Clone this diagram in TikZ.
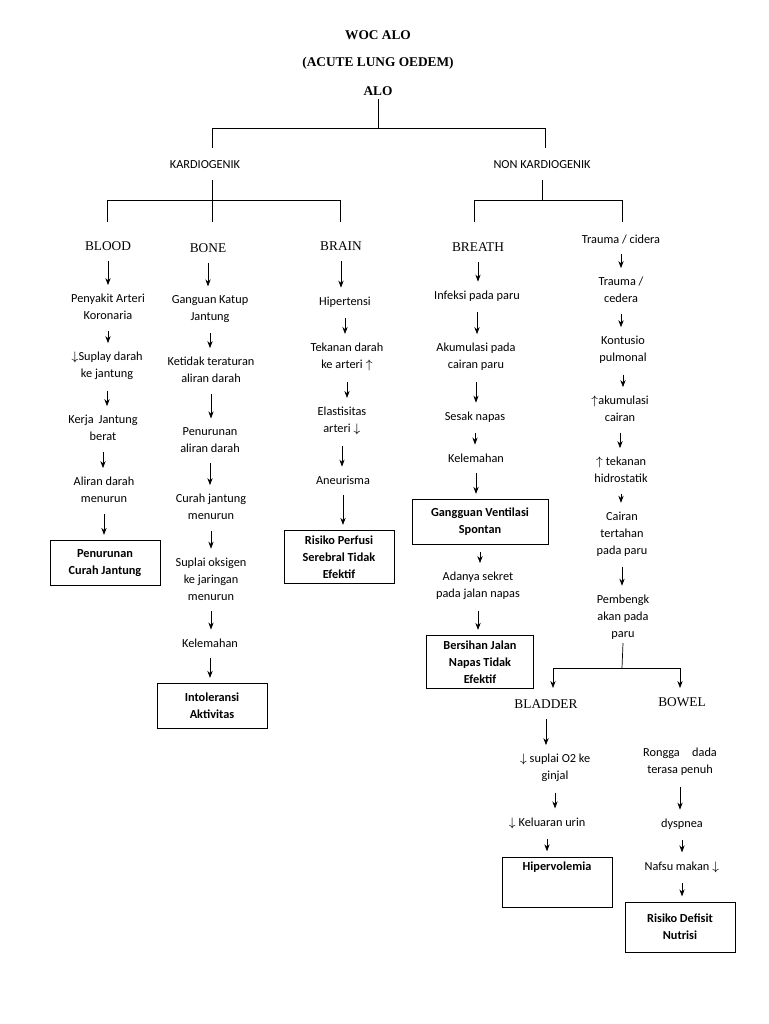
\documentclass[tikz,border=0pt]{standalone}
\usepackage{fontspec}
\setmainfont{Carlito}
\newfontfamily\serif{Liberation Serif}
\usetikzlibrary{arrows.meta,calc}
\tikzset{
  txt/.style={align=center,inner sep=2pt,font=\fontsize{7}{9.6}\selectfont},
  head/.style={inner sep=2pt,font=\serif\fontsize{7.6}{9}\selectfont},
  ttl/.style={inner sep=2pt,font=\serif\bfseries\fontsize{7.6}{9}\selectfont},
  box/.style={draw,align=center,inner sep=3pt,minimum width=2.2cm,minimum height=0.9cm,font=\bfseries\fontsize{7}{9.6}\selectfont},
  arr/.style={-{Stealth[length=4pt,width=3pt]},thin,shorten <=4pt,shorten >=3pt}
}
\begin{document}
\begin{tikzpicture}[x=0.02cm,y=-0.02cm]
\useasboundingbox (0,0) rectangle (768,1024);
% titles
\node[ttl] (woc) at (378,35) {WOC ALO};
\node[ttl] (alu) at (378,63) {(ACUTE LUNG OEDEM)};
\node[ttl] (alo) at (378,91) {ALO};
\node[txt] (kar) at (205,165) {KARDIOGENIK};
\node[txt] (non) at (542,165) {NON KARDIOGENIK};
\draw (alo.south) -- (378,128) -| (212,148);
\draw (378,128) -| (545,148);
\draw (212,180) -- (212,200);
\draw (107,200) -- (340,200);
\foreach \x in {107,212,340} \draw (\x,200) -- (\x,222);
\draw (542,180) -- (542,200);
\draw (474,200) -- (622,200);
\foreach \x in {474,622} \draw (\x,200) -- (\x,222);

% BLOOD
\node[head] (blood) at (108,246) {BLOOD};
\node[txt] (b1) at (108,307) {Penyakit Arteri\\Koronaria};
\node[txt] (b2) at (107,366) {$\downarrow$Suplay darah\\ke jantung};
\node[txt] (b3) at (103,428) {Kerja\, Jantung\\berat};
\node[txt] (b4) at (104,490) {Aliran darah\\menurun};
\node[box] (bb) at (105,563) {Penurunan\\Curah Jantung};
\draw[arr] (blood.south) -- (blood.south |- b1.north);
\draw[arr] (b1.south) -- (b1.south |- b2.north);
\draw[arr] (b2.south) -- (b2.south |- b3.north);
\draw[arr] (b3.south) -- (b3.south |- b4.north);
\draw[arr] (b4.south) -- (b4.south |- bb.north);

% BONE
\node[head] (bone) at (208,248) {BONE};
\node[txt] (n1) at (210,309) {Ganguan Katup\\Jantung};
\node[txt] (n2) at (211,370) {Ketidak teraturan\\aliran darah};
\node[txt] (n3) at (210,440) {Penurunan\\aliran darah};
\node[txt] (n4) at (211,507) {Curah jantung\\menurun};
\node[txt] (n5) at (211,579) {Suplai oksigen\\ke jaringan\\menurun};
\node[txt] (n6) at (210,643) {Kelemahan};
\node[box] (nb) at (212,706) {Intoleransi\\Aktivitas};
\draw[arr] (bone.south) -- (bone.south |- n1.north);
\draw[arr] (n1.south) -- (n1.south |- n2.north);
\draw[arr] (n2.south) -- (n2.south |- n3.north);
\draw[arr] (n3.south) -- (n3.south |- n4.north);
\draw[arr] (n4.south) -- (n4.south |- n5.north);
\draw[arr] (n5.south) -- (n5.south |- n6.north);
\draw[arr] (n6.south) -- (n6.south |- nb.north);

% BRAIN
\node[head] (brain) at (341,246) {BRAIN};
\node[txt] (r1) at (345,302) {Hipertensi};
\node[txt] (r2) at (347,357) {Tekanan darah\\ke arteri $\uparrow$};
\node[txt] (r3) at (342,421) {Elastisitas\\arteri $\downarrow$};
\node[txt] (r4) at (343,480) {Aneurisma};
\node[box] (rb) at (339,557) {Risiko Perfusi\\Serebral Tidak\\Efektif};
\draw[arr] (brain.south) -- (brain.south |- r1.north);
\draw[arr] (r1.south) -- (r1.south |- r2.north);
\draw[arr] (r2.south) -- (r2.south |- r3.north);
\draw[arr] (r3.south) -- (r3.south |- r4.north);
\draw[arr] (r4.south) -- (r4.south |- rb.north);

% BREATH
\node[head] (breath) at (478,247) {BREATH};
\node[txt] (e1) at (477,296) {Infeksi pada paru};
\node[txt] (e2) at (476,357) {Akumulasi pada\\cairan paru};
\node[txt] (e3) at (475,417) {Sesak napas};
\node[txt] (e4) at (476,458) {Kelemahan};
\node[box,minimum width=2.72cm] (eb1) at (480,522) {Gangguan Ventilasi\\Spontan};
\node[txt] (e5) at (478,586) {Adanya sekret\\pada jalan napas};
\node[box,minimum width=2.14cm] (eb2) at (480,662) {Bersihan Jalan\\Napas Tidak\\Efektif};
\draw[arr] (breath.south) -- (breath.south |- e1.north);
\draw[arr] (e1.south) -- (e1.south |- e2.north);
\draw[arr] (e2.south) -- (e2.south |- e3.north);
\draw[arr] (e3.south) -- (e3.south |- e4.north);
\draw[arr] (e4.south) -- (e4.south |- eb1.north);
\draw[arr] (eb1.south) -- (eb1.south |- e5.north);
\draw[arr] (e5.south) -- (e5.south |- eb2.north);

% Trauma
\node[txt] (t0) at (621,239) {Trauma / cidera};
\node[txt] (t1) at (621,290) {Trauma /\\cedera};
\node[txt] (t2) at (623,350) {Kontusio\\pulmonal};
\node[txt] (t3) at (620,409) {$\uparrow$akumulasi\\cairan};
\node[txt] (t4) at (621,470) {$\uparrow$ tekanan\\hidrostatik};
\node[txt] (t5) at (622,534) {Cairan\\tertahan\\pada paru};
\node[txt] (t6) at (623,617) {Pembengk\\akan pada\\paru};
\draw[arr] (t0.south) -- (t0.south |- t1.north);
\draw[arr] (t1.south) -- (t1.south |- t2.north);
\draw[arr] (t2.south) -- (t2.south |- t3.north);
\draw[arr] (t3.south) -- (t3.south |- t4.north);
\draw[arr] (t4.south) -- (t4.south |- t5.north);
\draw[arr] (t5.south) -- (t5.south |- t6.north);
\draw (t6.south) -- (622,668);
\draw (553,668) -- (680,668);
\draw[-{Stealth[length=4pt,width=3pt]},thin] (553,668) -- (553,688);
\draw[-{Stealth[length=4pt,width=3pt]},thin] (680,668) -- (680,688);

% BLADDER
\node[head] (bladder) at (546,704) {BLADDER};
\node[txt] (l1) at (555,768) {$\downarrow$ suplai O2 ke\\ginjal};
\node[txt] (l2) at (547,823) {$\downarrow$ Keluaran urin};
\node[box,minimum height=0.96cm] (lb) at (557,882) {Hipervolemia\\[8pt]};
\draw[arr] (bladder.south) -- (bladder.south |- l1.north);
\draw[arr] (l1.south) -- (l1.south |- l2.north);
\draw[arr] (l2.south) -- (l2.south |- lb.north);

% BOWEL
\node[head] (bowel) at (682,702) {BOWEL};
\node[txt] (w1) at (680,762) {Rongga\quad dada\\terasa penuh};
\node[txt] (w2) at (682,824) {dyspnea};
\node[txt] (w3) at (682,867) {Nafsu makan $\downarrow$};
\node[box,minimum height=1cm] (wb) at (680,927) {Risiko Defisit\\Nutrisi};
\draw[arr] (w1.south) -- (w1.south |- w2.north);
\draw[arr] (w2.south) -- (w2.south |- w3.north);
\draw[arr] (w3.south) -- (w3.south |- wb.north);
\end{tikzpicture}
\end{document}
